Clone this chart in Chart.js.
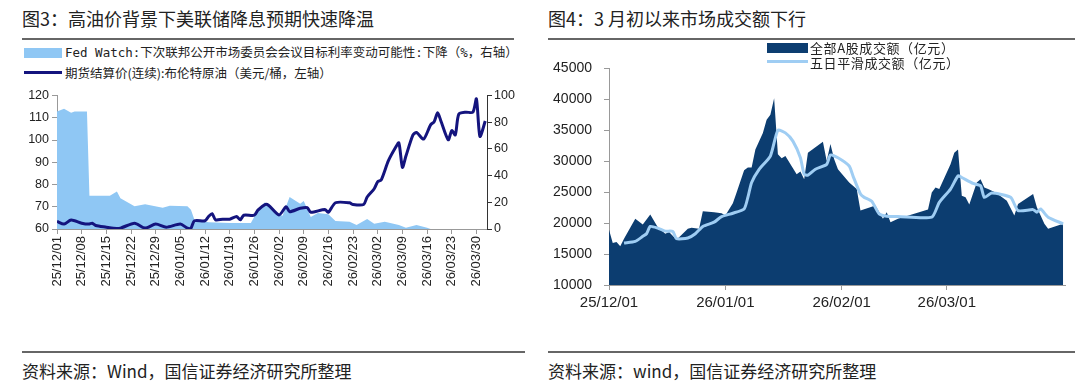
<!DOCTYPE html>
<html lang="zh-CN">
<head>
<meta charset="utf-8">
<script src="https://cdn.jsdelivr.net/npm/chart.js@4.4.0/dist/chart.umd.min.js"></script>
<style>
  html, body { margin: 0; padding: 0; background: #fff; }
  body { width: 1080px; height: 384px; position: relative; overflow: hidden; font-family: "Noto Sans CJK SC", sans-serif; color: #222; }
  .title { position: absolute; top: 5px; font-size: 18px; line-height: 26px; white-space: nowrap; }
  .rule { position: absolute; height: 2px; background: #666; }
  .box { position: absolute; }
  .leg { position: absolute; white-space: nowrap; font-size: 12.5px; line-height: 16px; }
  .swatch { position: absolute; }
  .source { position: absolute; top: 360px; font-size: 17px; line-height: 22px; white-space: nowrap; }
</style>
</head>
<body>
  <div class="title" style="left:22px">图3：高油价背景下美联储降息预期快速降温</div>
  <div class="title" style="left:548px">图4：3 月初以来市场成交额下行</div>
  <div class="rule" style="left:22px; top:38px; width:492px"></div>
  <div class="rule" style="left:548px; top:38px; width:527px"></div>

  <!-- left legend -->
  <div class="swatch" style="left:24px; top:48px; width:38px; height:10px; background:#8fc7f4"></div>
  <div class="leg" style="left:65px; top:45px; font-family:'DejaVu Sans Mono','Noto Sans CJK SC',monospace">Fed Watch:下次联邦公开市场委员会会议目标利率变动可能性:下降（%，右轴）</div>
  <div class="swatch" style="left:24px; top:71px; width:38px; height:3px; background:#14147e"></div>
  <div class="leg" style="left:65px; top:65px">期货结算价(连续):布伦特原油（美元/桶，左轴）</div>

  <div class="box" style="left:0px; top:85px"><canvas id="oilChart" width="530" height="215"></canvas></div>
  <div class="box" style="left:545px; top:48px"><canvas id="turnChart" width="535" height="267"></canvas></div>

  <!-- right legend (drawn over the canvas) -->
  <div class="swatch" style="left:767px; top:43px; width:41px; height:10px; background:#0c3d70"></div>
  <div class="leg" style="left:810px; top:40px; font-size:13px; letter-spacing:0.6px">全部A股成交额（亿元）</div>
  <div class="swatch" style="left:767px; top:60px; width:41px; height:3px; background:#9fcdf3"></div>
  <div class="leg" style="left:810px; top:55px; font-size:13px; letter-spacing:0.6px">五日平滑成交额（亿元）</div>

  <div class="rule" style="left:22px; top:351px; width:503px"></div>
  <div class="rule" style="left:548px; top:351px; width:527px"></div>
  <div class="source" style="left:22px">资料来源：Wind，国信证券经济研究所整理</div>
  <div class="source" style="left:548px">资料来源：wind，国信证券经济研究所整理</div>

<script>
// 图3 数据：x 为自 2025/12/01 起的天数
const weekDays = [0, 7, 14, 21, 28, 35, 42, 49, 56, 63, 70, 77, 84, 91, 98, 105, 112, 119];
const weekLabels = ['25/12/01', '25/12/08', '25/12/15', '25/12/22', '25/12/29', '26/01/05', '26/01/12', '26/01/19', '26/01/26',
    '26/02/02', '26/02/09', '26/02/16', '26/02/23', '26/03/02', '26/03/09', '26/03/16', '26/03/23', '26/03/30'];

const oilDays = [0, 2, 4, 7, 9, 10, 11, 14, 16, 18, 22, 25, 28, 31, 35, 37, 38, 39, 42, 43,
    44, 45, 47, 49, 51, 52, 53, 56, 57, 59, 60, 63, 65, 66, 69, 71, 72, 76, 77, 79,
    83, 84, 87, 88, 90, 91, 92, 94, 96, 97, 98, 99, 101, 102, 104, 106, 107, 108, 109, 111,
    112, 113, 114, 116, 118, 119, 120, 121.5];
const oilPrice = [63.4, 62.2, 64.0, 62.6, 62.2, 62.6, 61.6, 60.8, 60.3, 60.4, 62.6, 60.4, 62.2, 60.8, 62.2, 60.4, 60.4, 63.7, 63.7, 65.6,
    66.9, 64.1, 64.4, 64.4, 65.6, 64.1, 66.2, 66.2, 68.5, 71.0, 70.7, 66.3, 70.0, 67.8, 69.3, 69.6, 67.5, 68.8, 67.5, 71.8,
    71.8, 71.0, 71.0, 74.4, 78.1, 81.3, 82.1, 90.6, 96.5, 98.7, 87.7, 92.8, 102.3, 103.4, 100.4, 106.8, 108.2, 112.2, 108.2, 100.1,
    104.2, 102.3, 111.6, 112.5, 112.5, 118.5, 101.6, 108.5];

const fedDays = [0, 2, 4, 5, 8.5, 9.2, 15, 17, 18, 22, 25, 30, 32, 37, 38, 39, 43, 49, 55, 57,
    59, 62, 64, 66, 69, 70, 72, 74, 77, 79, 83, 85, 88, 90, 93, 97, 99, 102, 105, 106, 121.5];
const fedProb = [88, 90, 87, 88, 88, 25, 25, 28, 23, 17, 18.5, 16, 17.5, 17, 14.5, 7, 5, 4.5, 4.5, 14,
    20, 12, 10, 24, 19, 21, 9, 12, 11, 6, 5.5, 3, 7.5, 4, 5.5, 3, 1, 3, 1, 0, 0];

// 图4 数据
const monthDays = [0, 31, 62, 90];
const monthLabels = ['25/12/01', '26/01/01', '26/02/01', '26/03/01'];

const turnDays = [0, 1, 2, 3, 4, 7, 9, 11, 13, 15, 16, 18, 21, 22, 24, 25, 28, 30, 31, 33,
    34, 36, 37, 38, 39, 41, 42, 43, 44, 45, 46, 47, 50, 51, 52, 53, 57, 58, 59, 60,
    61, 64, 66, 67, 71, 72, 73, 74, 75, 77, 85, 86, 87, 88, 91, 92, 93, 94, 95, 96,
    98, 99, 100, 101, 103, 106, 108, 109, 113, 114, 116, 117, 121];
const turnover = [18925, 16787, 16950, 16250, 17480, 20690, 19780, 21380, 19350, 18280, 18550, 17320, 19085, 19245, 19085, 21920, 21760, 21600, 21220, 23200,
    24960, 28540, 28970, 28970, 31910, 34580, 36720, 37520, 40190, 31110, 30470, 30840, 27900, 28330, 27100, 31380, 33140, 30040, 32800, 30310,
    28700, 26570, 25500, 22020, 22830, 21760, 20690, 21760, 20150, 20690, 22180, 24960, 25760, 25500, 29500, 31380, 31910, 24430, 24160, 22990,
    26570, 27100, 25760, 25500, 24960, 23630, 21220, 23090, 24700, 22560, 19890, 19085, 19890];

const maDays = [4, 7, 9, 10, 11, 13, 15, 17, 18, 21, 23, 25, 28, 30, 33, 36, 37, 38, 40, 43,
    45, 47, 49, 51, 52, 53, 55, 58, 59, 61, 64, 65, 67, 68, 70, 72, 74, 77, 86, 88,
    91, 93, 94, 97, 99, 100, 102, 107, 109, 113, 114, 115, 117, 121];
const turnMA5 = [16790, 17050, 17860, 18280, 19460, 19190, 18710, 18660, 17480, 17590, 18280, 19460, 20150, 21060, 21600, 22290, 24160, 26570, 28700, 30840,
    35000, 34580, 33250, 30570, 27900, 27740, 28700, 29500, 31000, 30570, 29240, 27640, 24700, 24160, 23520, 21490, 21120, 21060, 20960, 23360,
    25500, 27640, 27370, 26410, 26030, 24160, 24860, 24160, 22020, 22180, 21760, 22290, 20960, 19890];

function toPoints(xs, ys) {
    return xs.map((x, i) => ({ x: x, y: ys[i] }));
}

Chart.defaults.font.family = '"Liberation Sans", Arial, sans-serif';
Chart.defaults.color = '#222';
Chart.defaults.animation = false;

const tickGrid = { drawOnChartArea: false, drawTicks: true, tickLength: 5, color: '#999' };

// 图3：布伦特原油 + Fed Watch
new Chart(document.getElementById('oilChart').getContext('2d'), {
    type: 'line',
    data: {
        datasets: [
            {
                label: '期货结算价(连续):布伦特原油（美元/桶，左轴）',
                data: toPoints(oilDays, oilPrice),
                yAxisID: 'y',
                borderColor: '#14147e',
                borderWidth: 3,
                pointRadius: 0,
                tension: 0.25,
                fill: false,
                order: 1
            },
            {
                label: 'Fed Watch:下次联邦公开市场委员会会议目标利率变动可能性:下降（%，右轴）',
                data: toPoints(fedDays, fedProb),
                yAxisID: 'y1',
                borderWidth: 0,
                backgroundColor: '#8fc7f4',
                pointRadius: 0,
                tension: 0,
                fill: 'start',
                order: 2
            }
        ]
    },
    options: {
        responsive: false,
        layout: { padding: { top: 8, left: 0, right: 0, bottom: 0 } },
        plugins: { legend: { display: false }, tooltip: { enabled: false } },
        scales: {
            x: {
                type: 'linear',
                min: 0,
                max: 122,
                afterBuildTicks: (axis) => { axis.ticks = weekDays.map(v => ({ value: v })); },
                afterFit: (axis) => { axis.height = 71; },
                grid: tickGrid,
                border: { color: '#999' },
                ticks: {
                    autoSkip: false,
                    minRotation: 90,
                    maxRotation: 90,
                    padding: 2,
                    font: { size: 13 },
                    callback: (v) => weekLabels[weekDays.indexOf(v)]
                }
            },
            y: {
                position: 'left',
                min: 60,
                max: 120,
                afterFit: (axis) => { axis.width = 57; },
                grid: tickGrid,
                border: { color: '#999' },
                ticks: { stepSize: 10, padding: 3, font: { size: 12.5 } }
            },
            y1: {
                position: 'right',
                min: 0,
                max: 100,
                afterFit: (axis) => { axis.width = 43; },
                grid: { drawOnChartArea: false, drawTicks: true, tickLength: 5, color: '#333' },
                border: { color: '#333' },
                ticks: { stepSize: 20, padding: 2, font: { size: 12.5 } }
            }
        }
    }
});

// 图4：全部A股成交额
new Chart(document.getElementById('turnChart').getContext('2d'), {
    type: 'line',
    data: {
        datasets: [
            {
                label: '五日平滑成交额（亿元）',
                data: toPoints(maDays, turnMA5),
                borderColor: '#9fcdf3',
                borderWidth: 3,
                pointRadius: 0,
                tension: 0.2,
                fill: false,
                order: 1
            },
            {
                label: '全部A股成交额（亿元）',
                data: toPoints(turnDays, turnover),
                borderWidth: 0,
                backgroundColor: '#0c3d70',
                pointRadius: 0,
                tension: 0,
                fill: 'start',
                order: 2
            }
        ]
    },
    options: {
        responsive: false,
        layout: { padding: { top: 4, left: 0, right: 15, bottom: 0 } },
        plugins: { legend: { display: false }, tooltip: { enabled: false } },
        scales: {
            x: {
                type: 'linear',
                min: 0,
                max: 121.5,
                afterBuildTicks: (axis) => { axis.ticks = monthDays.map(v => ({ value: v })); },
                afterFit: (axis) => { axis.height = 30; },
                grid: tickGrid,
                border: { color: '#999' },
                ticks: {
                    autoSkip: false,
                    maxRotation: 0,
                    padding: 4,
                    font: { size: 15 },
                    callback: (v) => monthLabels[monthDays.indexOf(v)]
                }
            },
            y: {
                min: 10000,
                max: 45000,
                afterFit: (axis) => { axis.width = 64; },
                grid: tickGrid,
                border: { color: '#999' },
                ticks: { stepSize: 5000, padding: 12, font: { size: 14 }, callback: (v) => String(v) }
            }
        }
    }
});
</script>
</body>
</html>
